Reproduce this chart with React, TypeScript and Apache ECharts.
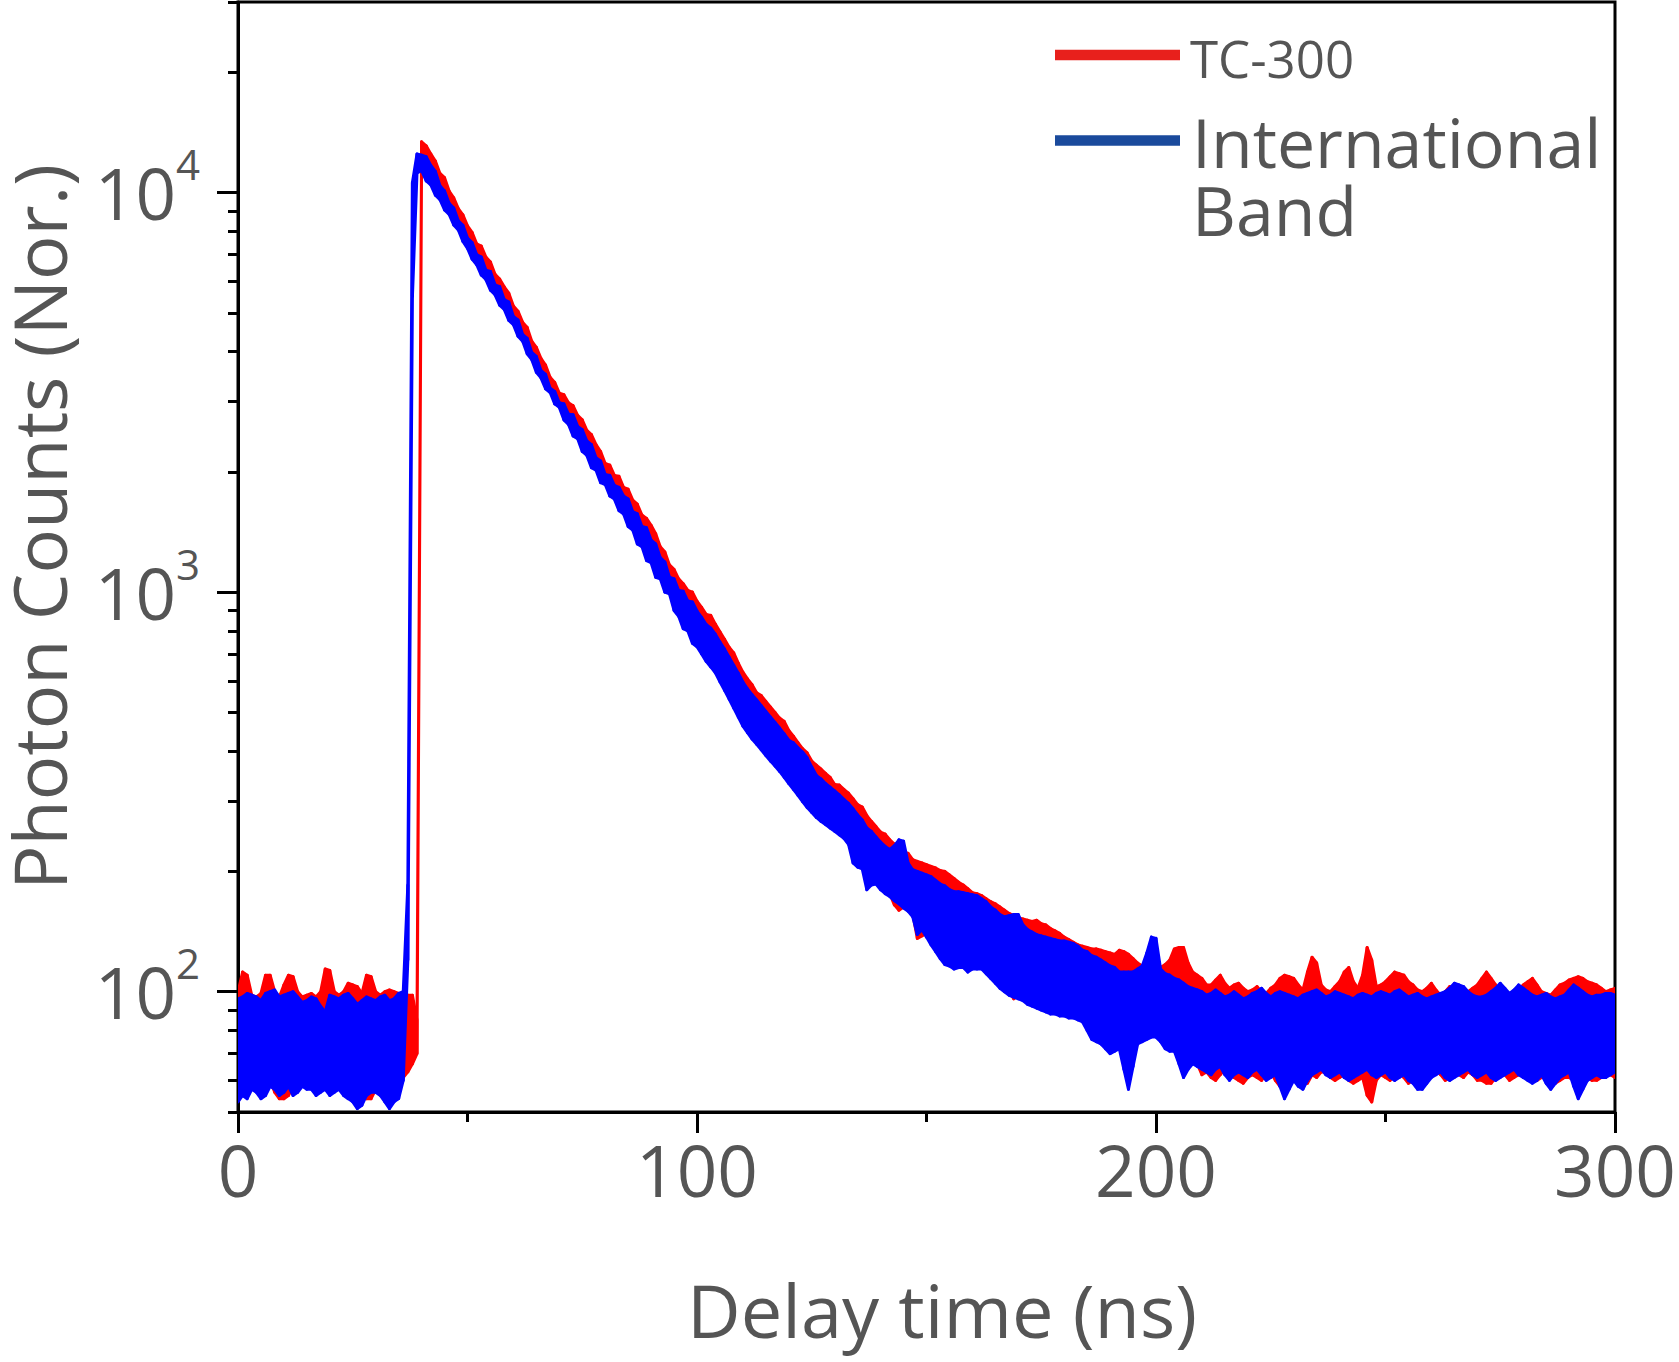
import React, { useEffect, useRef } from "react";
import * as echarts from "echarts";

// Time grid (ns), one sample per nanosecond
const timeNs: number[] = Array.from({ length: 301 }, (_, i) => i);

// TC-300: upper and lower edge of the noisy trace (counts)
const tc300Upper: number[] = [
  100, 112, 110, 98, 97, 99, 110, 110, 100, 97,
  104, 110, 109, 100, 97, 98, 99, 97, 100, 114,
  113, 100, 98, 100, 105, 104, 103, 99, 110, 109,
  100, 98, 100, 101, 100, 99, 99, 98, 98, 85,
  13400, 13100, 12500, 12000, 11170, 10900, 10090, 9700, 9120, 8800,
  8260, 7950, 7450, 7350, 6900, 6700, 6250, 6080, 5810, 5600,
  5200, 5050, 4740, 4600, 4250, 4100, 3850, 3700, 3450, 3350,
  3150, 3120, 2980, 2930, 2770, 2700, 2540, 2480, 2340, 2250,
  2100, 2080, 1960, 1950, 1830, 1810, 1700, 1660, 1560, 1530,
  1470, 1400, 1300, 1260, 1170, 1140, 1080, 1050, 1010, 1000,
  950, 916, 880, 875, 832, 796, 762, 728, 705, 664,
  631, 607, 587, 560, 551, 533, 516, 500, 484, 475,
  451, 436, 420, 406, 396, 378, 369, 361, 352, 344,
  330, 329, 321, 314, 304, 294, 290, 276, 267, 259,
  251, 248, 240, 234, 229, 224, 222, 214, 212, 210,
  208, 206, 204, 201, 200, 196, 192, 188, 185, 181,
  177, 176, 174, 171, 168, 166, 163, 160, 157, 155,
  153, 152, 151, 150, 151, 148, 147, 144, 142, 140,
  137, 135, 133, 131, 130, 129, 128, 128, 127, 126,
  125, 124, 127, 126, 124, 121, 118, 116, 115, 114,
  113, 115, 117, 120, 128, 129, 129, 118, 112, 110,
  108, 104, 104, 107, 110, 105, 102, 104, 105, 102,
  100, 101, 103, 100, 99, 102, 104, 108, 110, 109,
  108, 104, 101, 112, 122, 118, 104, 101, 100, 103,
  106, 112, 115, 106, 102, 110, 129, 120, 103, 104,
  106, 109, 112, 111, 110, 106, 104, 101, 100, 102,
  105, 101, 98, 100, 103, 102, 101, 100, 100, 102,
  104, 108, 112, 108, 104, 101, 100, 99, 98, 101,
  104, 106, 108, 104, 100, 99, 98, 101, 104, 105,
  107, 108, 109, 108, 106, 105, 104, 102, 100, 101,
  102,
];
const tc300Lower: number[] = [
  58, 60, 59, 61, 58, 57, 59, 60, 56, 54,
  54, 55, 58, 60, 59, 61, 60, 58, 59, 60,
  58, 59, 60, 58, 57, 58, 59, 55, 54, 54,
  57, 58, 57, 58, 59, 60, 61, 63, 66, 70,
  12200, 11200, 10700, 10250, 9800, 9380, 8980, 8580, 8200, 7780,
  7380, 7040, 6710, 6430, 6160, 5900, 5640, 5410, 5180, 4960,
  4740, 4520, 4310, 4090, 3880, 3670, 3490, 3350, 3200, 3060,
  2940, 2800, 2660, 2550, 2450, 2340, 2220, 2130, 2040, 1960,
  1890, 1810, 1730, 1660, 1590, 1520, 1450, 1380, 1320, 1250,
  1200, 1140, 1090, 1045, 1000, 940, 880, 843, 809, 775,
  745, 714, 684, 663, 641, 609, 579, 551, 523, 497,
  471, 454, 438, 424, 411, 398, 386, 374, 363, 351,
  339, 327, 316, 305, 295, 287, 278, 272, 267, 262,
  257, 252, 247, 239, 232, 222, 213, 205, 195, 190,
  184, 180, 176, 165, 160, 163, 162, 157, 136, 138,
  140, 134, 129, 123, 119, 118, 118, 117, 117, 116,
  116, 116, 116, 113, 110, 107, 104, 102, 100, 96,
  98, 97, 95, 94, 93, 92, 91, 90, 92, 89,
  89, 88, 88, 87, 86, 82, 78, 77, 76, 74,
  71, 72, 73, 66, 60, 67, 75, 76, 77, 78,
  78, 76, 73, 72, 72, 67, 62, 65, 67, 66,
  62, 63, 61, 60, 62, 64, 62, 61, 60, 59,
  61, 62, 61, 60, 62, 63, 60, 58, 57, 60,
  61, 62, 60, 59, 62, 61, 63, 63, 61, 60,
  61, 62, 60, 59, 60, 61, 55, 53, 60, 62,
  61, 60, 62, 63, 61, 59, 60, 61, 60, 60,
  62, 64, 62, 60, 61, 62, 62, 61, 63, 62,
  60, 60, 59, 59, 61, 63, 62, 60, 61, 62,
  62, 61, 60, 60, 61, 62, 60, 59, 60, 61,
  61, 60, 61, 62, 61, 60, 60, 61, 62, 62,
  61,
];

// International Band: upper and lower edge of the noisy trace (counts)
const intlBandUpper: number[] = [
  96, 97, 99, 98, 97, 95, 99, 100, 101, 97,
  98, 99, 100, 97, 94, 95, 97, 96, 92, 89,
  98, 97, 96, 98, 99, 96, 93, 95, 97, 96,
  95, 97, 98, 95, 96, 99, 100, 185, 10600, 12500,
  12400, 12300, 11700, 11300, 10400, 10100, 9400, 9150, 8500, 8280,
  7700, 7500, 7000, 6900, 6400, 6350, 5880, 5820, 5400, 5320,
  4900, 4800, 4420, 4320, 3980, 3890, 3590, 3510, 3240, 3180,
  2980, 2960, 2790, 2780, 2600, 2550, 2390, 2340, 2170, 2130,
  1970, 1960, 1850, 1830, 1740, 1710, 1590, 1570, 1460, 1450,
  1350, 1320, 1220, 1190, 1090, 1080, 1010, 1005, 950, 945,
  897, 865, 830, 813, 785, 750, 720, 687, 656, 627,
  596, 573, 554, 537, 520, 503, 487, 472, 457, 442,
  426, 420, 408, 398, 385, 365, 348, 341, 332, 325,
  318, 311, 303, 296, 287, 277, 269, 257, 252, 244,
  237, 231, 227, 232, 240, 238, 210, 202, 200, 198,
  196, 194, 190, 186, 184, 180, 178, 178, 177, 176,
  175, 174, 171, 168, 163, 160, 156, 154, 155, 156,
  156, 147, 143, 141, 139, 138, 137, 136, 135, 134,
  134, 133, 132, 130, 127, 126, 123, 122, 120, 118,
  116, 115, 112, 112, 112, 112, 114, 116, 125, 137,
  136, 114, 111, 110, 108, 107, 105, 103, 102, 101,
  100, 98, 99, 101, 99, 97, 98, 100, 98, 96,
  97, 99, 100, 102, 99, 97, 99, 100, 99, 98,
  97, 96, 98, 99, 100, 101, 99, 97, 98, 100,
  99, 98, 97, 96, 98, 99, 98, 97, 99, 100,
  99, 98, 100, 101, 99, 97, 98, 99, 97, 96,
  97, 98, 99, 100, 102, 105, 104, 103, 100, 98,
  97, 97, 98, 100, 102, 105, 102, 99, 101, 104,
  102, 100, 98, 97, 98, 99, 97, 96, 97, 98,
  101, 104, 102, 100, 98, 97, 98, 98, 99, 99,
  98,
];
const intlBandLower: number[] = [
  53, 55, 54, 57, 56, 54, 55, 58, 57, 55,
  56, 58, 55, 56, 58, 57, 57, 55, 56, 57,
  55, 56, 57, 55, 54, 53, 51, 52, 55, 56,
  56, 55, 53, 51, 53, 54, 60, 120, 5500, 11200,
  11350, 10700, 10450, 9850, 9600, 9050, 8820, 8300, 8060, 7550,
  7250, 6820, 6600, 6220, 6060, 5700, 5550, 5230, 5100, 4790,
  4670, 4370, 4250, 3950, 3820, 3550, 3440, 3230, 3160, 2960,
  2900, 2700, 2630, 2460, 2420, 2250, 2200, 2050, 2020, 1880,
  1860, 1740, 1710, 1600, 1570, 1460, 1430, 1320, 1300, 1200,
  1185, 1090, 1080, 1000, 990, 900, 870, 810, 800, 745,
  730, 700, 671, 650, 628, 597, 568, 540, 513, 487,
  462, 445, 429, 416, 403, 390, 378, 367, 356, 344,
  332, 321, 310, 299, 289, 281, 273, 267, 262, 257,
  252, 247, 242, 234, 210, 205, 203, 180, 185, 186,
  180, 176, 173, 169, 166, 162, 159, 154, 139, 143,
  137, 131, 126, 121, 117, 116, 114, 115, 115, 112,
  114, 114, 114, 111, 108, 105, 102, 100, 98, 97,
  96, 95, 93, 92, 91, 90, 89, 88, 88, 87,
  87, 86, 86, 85, 84, 80, 76, 75, 74, 72,
  70, 71, 72, 64, 57, 65, 74, 75, 76, 77,
  77, 75, 72, 71, 71, 66, 61, 64, 66, 65,
  64, 63, 62, 64, 65, 62, 60, 62, 63, 62,
  61, 63, 64, 62, 60, 61, 62, 58, 54, 57,
  60, 58, 57, 60, 62, 63, 64, 62, 61, 62,
  63, 61, 60, 61, 62, 63, 64, 62, 61, 62,
  63, 61, 60, 61, 62, 60, 59, 57, 57, 59,
  61, 62, 63, 61, 60, 61, 62, 63, 64, 62,
  61, 62, 63, 61, 60, 61, 62, 63, 64, 62,
  61, 60, 59, 60, 62, 59, 57, 59, 61, 62,
  63, 58, 54, 57, 60, 61, 62, 61, 61, 62,
  63,
];

const seriesNames = ["TC-300", "International\nBand"];
const xTickLabels = [0, 100, 200, 300];
const yMajorTicks = [100, 1000, 10000];
const yMinorTicks = [
  50, 60, 70, 80, 90,
  200, 300, 400, 500, 600, 700, 800, 900,
  2000, 3000, 4000, 5000, 6000, 7000, 8000, 9000,
  20000, 30000,
];

const FONT = '"Open Sans", "Noto Sans", sans-serif';
const TEXT = "#555555";
const RED = "#ff0000";
const BLUE = "#0000ff";

// A noisy trace drawn as the filled band between its lower and upper edge,
// positioned through the chart's own axes (api.coord).
function bandSeries(name: string, color: string, lower: number[], upper: number[], z: number) {
  const rows = timeNs.map((t, i) => [t, lower[i], upper[i]]);
  return {
    name,
    type: "custom",
    data: rows,
    encode: { x: 0, y: [1, 2] },
    clip: true,
    silent: true,
    z,
    renderItem: (params: any, api: any) => {
      const i = params.dataIndex;
      if (i >= rows.length - 1) return null;
      const next = rows[i + 1];
      const a = api.coord([api.value(0), api.value(1)]);
      const b = api.coord([next[0], next[1]]);
      const c = api.coord([next[0], next[2]]);
      const d = api.coord([api.value(0), api.value(2)]);
      return {
        type: "polygon",
        shape: { points: [a, b, c, d] },
        style: { fill: color, stroke: color, lineWidth: 3, lineJoin: "round" },
      };
    },
  };
}

export default function App() {
  const ref = useRef<HTMLDivElement>(null);

  useEffect(() => {
    document.body.style.margin = "0";
    const chart = echarts.init(ref.current as HTMLDivElement, null, { renderer: "svg" });

    const option: any = {
      animation: false,
      backgroundColor: "#ffffff",
      grid: {
        left: 238,
        right: 64,
        top: 2,
        bottom: 250,
        show: true,
        borderColor: "#000",
        borderWidth: 3,
        containLabel: false,
        outerBoundsMode: "none",
      },
      xAxis: {
        type: "value",
        min: xTickLabels[0],
        max: xTickLabels[xTickLabels.length - 1],
        interval: 100,
        axisLine: { show: true, onZero: false, lineStyle: { color: "#000", width: 3 } },
        axisTick: { show: true, inside: false, length: 21, lineStyle: { color: "#000", width: 3 } },
        minorTick: { show: true, splitNumber: 2, length: 10, lineStyle: { color: "#000", width: 3 } },
        axisLabel: { show: true, margin: 22, fontSize: 71, color: TEXT, fontFamily: FONT },
        splitLine: { show: false },
        minorSplitLine: { show: false },
        name: "Delay time (ns)",
        nameLocation: "middle",
        nameGap: 160,
        nameTextStyle: { fontSize: 74, color: TEXT, fontFamily: FONT, padding: [0, 0, 0, 31] },
      },
      yAxis: [
        {
          type: "log",
          logBase: 10,
          min: 50,
          max: 30000,
          position: "left",
          axisLine: { show: true, lineStyle: { color: "#000", width: 3 } },
          axisTick: {
            show: true,
            inside: false,
            length: 21,
            lineStyle: { color: "#000", width: 3 },
            customValues: yMajorTicks,
          },
          minorTick: { show: false },
          axisLabel: {
            show: true,
            margin: 38,
            customValues: yMajorTicks,
            formatter: (v: number) => `{b|10}{s|${Math.round(Math.log10(v))}}`,
            rich: {
              b: { fontSize: 71, lineHeight: 100, color: TEXT, fontFamily: FONT },
              s: { fontSize: 42, lineHeight: 30, verticalAlign: "top", color: TEXT, fontFamily: FONT },
            },
          },
          splitLine: { show: false },
          name: "Photon Counts (Nor.)",
          nameLocation: "middle",
          nameRotate: 90,
          nameGap: 163,
          nameTextStyle: { fontSize: 74, color: TEXT, fontFamily: FONT, padding: [0, 0, 0, 60] },
        },
        {
          type: "log",
          logBase: 10,
          min: 50,
          max: 30000,
          position: "left",
          axisLine: { show: false },
          axisTick: {
            show: true,
            inside: false,
            length: 10,
            lineStyle: { color: "#000", width: 3 },
            customValues: yMinorTicks,
          },
          axisLabel: { show: false },
          splitLine: { show: false },
        },
      ],
      series: [
        bandSeries(seriesNames[0], RED, tc300Lower, tc300Upper, 2),
        bandSeries(seriesNames[1], BLUE, intlBandLower, intlBandUpper, 3),
      ],
      graphic: [
        {
          type: "line",
          shape: { x1: 1055, y1: 55, x2: 1180, y2: 55 },
          style: { stroke: "#e8201c", lineWidth: 10.5 },
          z: 10,
        },
        {
          type: "text",
          x: 1190,
          y: 58,
          style: {
            text: seriesNames[0],
            font: `51px ${FONT}`,
            fill: TEXT,
            textAlign: "left",
            textVerticalAlign: "middle",
            align: "left",
            verticalAlign: "middle",
          },
          z: 10,
        },
        {
          type: "line",
          shape: { x1: 1055, y1: 140.5, x2: 1180, y2: 140.5 },
          style: { stroke: "#1a4a9c", lineWidth: 10.5 },
          z: 10,
        },
        {
          type: "text",
          x: 1192,
          y: 175,
          style: {
            text: seriesNames[1],
            font: `68px ${FONT}`,
            lineHeight: 68,
            fill: TEXT,
            textAlign: "left",
            textVerticalAlign: "middle",
            align: "left",
            verticalAlign: "middle",
          },
          z: 10,
        },
      ],
    };

    chart.setOption(option);
    return () => chart.dispose();
  }, []);

  return <div ref={ref} style={{ width: 1679, height: 1362 }} />;
}
